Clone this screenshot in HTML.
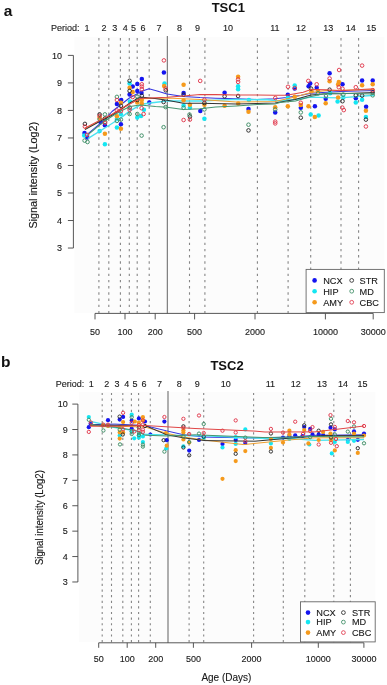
<!DOCTYPE html>
<html><head><meta charset="utf-8"><title>TSC1 / TSC2</title>
<style>
html,body{margin:0;padding:0;background:#fff;}
body{width:387px;height:685px;overflow:hidden;}
svg{display:block;filter:blur(0.35px);}
.t{font-family:'Liberation Sans',Arial,sans-serif;font-size:9px;fill:#1a1a1a;stroke:#1a1a1a;stroke-width:0.12px;}
.lg{font-size:9.2px;}
.ax{font-size:10px;}
.yt{font-family:'Liberation Sans',Arial,sans-serif;font-size:10px;fill:#1a1a1a;stroke:#1a1a1a;stroke-width:0.15px;}
.tt{font-family:'Liberation Sans',Arial,sans-serif;font-size:13px;font-weight:bold;fill:#111;}
.pl{font-family:'Liberation Sans',Arial,sans-serif;font-size:15.5px;font-weight:bold;fill:#111;}
</style></head><body>
<svg width="387" height="685" viewBox="0 0 387 685">
<rect width="387" height="685" fill="#fff"/>
<rect x="74.5" y="37" width="309.9" height="276" fill="#fcfcfc"/>
<line x1="98.9" y1="38.1" x2="98.9" y2="313" stroke="#858585" stroke-width="1.1" stroke-dasharray="2.4 3.8"/>
<line x1="108.8" y1="38.1" x2="108.8" y2="313" stroke="#858585" stroke-width="1.1" stroke-dasharray="2.4 3.8"/>
<line x1="120.4" y1="38.1" x2="120.4" y2="313" stroke="#858585" stroke-width="1.1" stroke-dasharray="2.4 3.8"/>
<line x1="129.3" y1="38.1" x2="129.3" y2="313" stroke="#858585" stroke-width="1.1" stroke-dasharray="2.4 3.8"/>
<line x1="137.2" y1="38.1" x2="137.2" y2="313" stroke="#858585" stroke-width="1.1" stroke-dasharray="2.4 3.8"/>
<line x1="149.2" y1="38.1" x2="149.2" y2="313" stroke="#858585" stroke-width="1.1" stroke-dasharray="2.4 3.8"/>
<line x1="189.5" y1="38.1" x2="189.5" y2="313" stroke="#858585" stroke-width="1.1" stroke-dasharray="2.4 3.8"/>
<line x1="204.9" y1="38.1" x2="204.9" y2="313" stroke="#858585" stroke-width="1.1" stroke-dasharray="2.4 3.8"/>
<line x1="257.4" y1="38.1" x2="257.4" y2="313" stroke="#858585" stroke-width="1.1" stroke-dasharray="2.4 3.8"/>
<line x1="288.1" y1="38.1" x2="288.1" y2="313" stroke="#858585" stroke-width="1.1" stroke-dasharray="2.4 3.8"/>
<line x1="310.7" y1="38.1" x2="310.7" y2="313" stroke="#858585" stroke-width="1.1" stroke-dasharray="2.4 3.8"/>
<line x1="341" y1="38.1" x2="341" y2="313" stroke="#858585" stroke-width="1.1" stroke-dasharray="2.4 3.8"/>
<line x1="358.6" y1="38.1" x2="358.6" y2="313" stroke="#858585" stroke-width="1.1" stroke-dasharray="2.4 3.8"/>
<line x1="167.3" y1="36" x2="167.3" y2="313.4" stroke="#5a5a5a" stroke-width="0.95"/>
<path d="M73.4 55.4V248.04" stroke="#444" stroke-width="0.9" fill="none"/>
<path d="M67.9 55.4H73.4" stroke="#444" stroke-width="0.9"/>
<text x="62.1" y="58.6" text-anchor="end" class="t">10</text>
<path d="M67.9 82.92H73.4" stroke="#444" stroke-width="0.9"/>
<text x="62.1" y="86.12" text-anchor="end" class="t">9</text>
<path d="M67.9 110.44H73.4" stroke="#444" stroke-width="0.9"/>
<text x="62.1" y="113.64" text-anchor="end" class="t">8</text>
<path d="M67.9 137.96H73.4" stroke="#444" stroke-width="0.9"/>
<text x="62.1" y="141.16" text-anchor="end" class="t">7</text>
<path d="M67.9 165.48H73.4" stroke="#444" stroke-width="0.9"/>
<text x="62.1" y="168.68" text-anchor="end" class="t">6</text>
<path d="M67.9 193H73.4" stroke="#444" stroke-width="0.9"/>
<text x="62.1" y="196.2" text-anchor="end" class="t">5</text>
<path d="M67.9 220.52H73.4" stroke="#444" stroke-width="0.9"/>
<text x="62.1" y="223.72" text-anchor="end" class="t">4</text>
<path d="M67.9 248.04H73.4" stroke="#444" stroke-width="0.9"/>
<text x="62.1" y="251.24" text-anchor="end" class="t">3</text>
<path d="M95 313.4H373.2" stroke="#444" stroke-width="0.9" fill="none"/>
<path d="M95 313.4V319.4" stroke="#444" stroke-width="0.9"/>
<text x="95" y="334.6" text-anchor="middle" class="t">50</text>
<path d="M125 313.4V319.4" stroke="#444" stroke-width="0.9"/>
<text x="125" y="334.6" text-anchor="middle" class="t">100</text>
<path d="M155.2 313.4V319.4" stroke="#444" stroke-width="0.9"/>
<text x="155.2" y="334.6" text-anchor="middle" class="t">200</text>
<path d="M194.6 313.4V319.4" stroke="#444" stroke-width="0.9"/>
<text x="194.6" y="334.6" text-anchor="middle" class="t">500</text>
<path d="M255 313.4V319.4" stroke="#444" stroke-width="0.9"/>
<text x="255" y="334.6" text-anchor="middle" class="t">2000</text>
<path d="M325.4 313.4V319.4" stroke="#444" stroke-width="0.9"/>
<text x="325.4" y="334.6" text-anchor="middle" class="t">10000</text>
<path d="M373.2 313.4V319.4" stroke="#444" stroke-width="0.9"/>
<text x="373.2" y="334.6" text-anchor="middle" class="t">30000</text>
<text x="50.9" y="30.5" class="t">Period:</text>
<text x="87" y="30.5" text-anchor="middle" class="t">1</text>
<text x="104.1" y="30.5" text-anchor="middle" class="t">2</text>
<text x="114.8" y="30.5" text-anchor="middle" class="t">3</text>
<text x="125.2" y="30.5" text-anchor="middle" class="t">4</text>
<text x="133.4" y="30.5" text-anchor="middle" class="t">5</text>
<text x="143" y="30.5" text-anchor="middle" class="t">6</text>
<text x="159.1" y="30.5" text-anchor="middle" class="t">7</text>
<text x="179.6" y="30.5" text-anchor="middle" class="t">8</text>
<text x="197.6" y="30.5" text-anchor="middle" class="t">9</text>
<text x="228" y="30.5" text-anchor="middle" class="t">10</text>
<text x="274.9" y="30.5" text-anchor="middle" class="t">11</text>
<text x="301" y="30.5" text-anchor="middle" class="t">12</text>
<text x="328.3" y="30.5" text-anchor="middle" class="t">13</text>
<text x="350.8" y="30.5" text-anchor="middle" class="t">14</text>
<text x="371.3" y="30.5" text-anchor="middle" class="t">15</text>
<text x="228.3" y="12.1" text-anchor="middle" class="tt">TSC1</text>
<text x="3.8" y="15.5" class="pl">a</text>
<text transform="translate(37 175.2) rotate(-90)" text-anchor="middle" class="yt" textLength="106.8" lengthAdjust="spacingAndGlyphs">Signal intensity (Log2)</text>
<circle cx="84.5" cy="132.9" r="2.25" fill="#1414f0"/>
<circle cx="87.3" cy="137.6" r="2.25" fill="#1414f0"/>
<circle cx="100.6" cy="122.2" r="2.25" fill="#1414f0"/>
<circle cx="104.9" cy="125.3" r="2.25" fill="#1414f0"/>
<circle cx="116.9" cy="104.1" r="2.25" fill="#1414f0"/>
<circle cx="121.2" cy="99.9" r="2.25" fill="#1414f0"/>
<circle cx="120.9" cy="124.2" r="2.25" fill="#1414f0"/>
<circle cx="129.6" cy="94.4" r="2.25" fill="#1414f0"/>
<circle cx="132.7" cy="86.4" r="2.25" fill="#1414f0"/>
<circle cx="137.3" cy="83.9" r="2.25" fill="#1414f0"/>
<circle cx="137.3" cy="90.9" r="2.25" fill="#1414f0"/>
<circle cx="141.8" cy="79" r="2.25" fill="#1414f0"/>
<circle cx="141.5" cy="93" r="2.25" fill="#1414f0"/>
<circle cx="149.3" cy="102.4" r="2.25" fill="#1414f0"/>
<circle cx="163.9" cy="72.6" r="2.25" fill="#1414f0"/>
<circle cx="183.6" cy="92.9" r="2.25" fill="#1414f0"/>
<circle cx="200.3" cy="111" r="2.25" fill="#1414f0"/>
<circle cx="224.6" cy="92.8" r="2.25" fill="#1414f0"/>
<circle cx="248.5" cy="109.1" r="2.25" fill="#1414f0"/>
<circle cx="275.2" cy="112.5" r="2.25" fill="#1414f0"/>
<circle cx="287.8" cy="94.8" r="2.25" fill="#1414f0"/>
<circle cx="294.7" cy="88.4" r="2.25" fill="#1414f0"/>
<circle cx="300.8" cy="107.8" r="2.25" fill="#1414f0"/>
<circle cx="310.2" cy="83.6" r="2.25" fill="#1414f0"/>
<circle cx="308.6" cy="86.3" r="2.25" fill="#1414f0"/>
<circle cx="316.7" cy="87.8" r="2.25" fill="#1414f0"/>
<circle cx="314.9" cy="106.2" r="2.25" fill="#1414f0"/>
<circle cx="325.7" cy="98.7" r="2.25" fill="#1414f0"/>
<circle cx="329.6" cy="73.2" r="2.25" fill="#1414f0"/>
<circle cx="342.5" cy="84.3" r="2.25" fill="#1414f0"/>
<circle cx="355.8" cy="98.3" r="2.25" fill="#1414f0"/>
<circle cx="362.1" cy="80.6" r="2.25" fill="#1414f0"/>
<circle cx="366.1" cy="106.8" r="2.25" fill="#1414f0"/>
<circle cx="372.7" cy="80.6" r="2.25" fill="#1414f0"/>
<path d="M87.5 134.2 L104.5 119.8 L112 111.5 L121.1 104.5 L129.4 98 L141.8 91.2 L149 88.7 L158 91.2 L167 94 L183.4 96.4 L200 97.6 L215.7 98.2 L236.3 98.8 L257 99.4 L275 98.8 L286.7 97.4 L301.2 95.3 L311 93.3 L326.5 92.3 L340 91.5 L374.2 90.5" stroke="#3535e0" stroke-width="1.05" fill="none" stroke-linejoin="round"/>
<circle cx="84.2" cy="135.6" r="2.25" fill="#14e6f2"/>
<circle cx="99.6" cy="131.1" r="2.25" fill="#14e6f2"/>
<circle cx="104.9" cy="144.2" r="2.25" fill="#14e6f2"/>
<circle cx="116.9" cy="118.9" r="2.25" fill="#14e6f2"/>
<circle cx="116.9" cy="127.5" r="2.25" fill="#14e6f2"/>
<circle cx="120.9" cy="114.3" r="2.25" fill="#14e6f2"/>
<circle cx="129.6" cy="83.6" r="2.25" fill="#14e6f2"/>
<circle cx="129.9" cy="101.4" r="2.25" fill="#14e6f2"/>
<circle cx="137.3" cy="117.5" r="2.25" fill="#14e6f2"/>
<circle cx="143.9" cy="109.8" r="2.25" fill="#14e6f2"/>
<circle cx="141" cy="116.1" r="2.25" fill="#14e6f2"/>
<circle cx="164.5" cy="83.5" r="2.25" fill="#14e6f2"/>
<circle cx="183.6" cy="105.6" r="2.25" fill="#14e6f2"/>
<circle cx="189.9" cy="107.4" r="2.25" fill="#14e6f2"/>
<circle cx="204.4" cy="118.7" r="2.25" fill="#14e6f2"/>
<circle cx="238.1" cy="86.2" r="2.25" fill="#14e6f2"/>
<circle cx="238.1" cy="89.2" r="2.25" fill="#14e6f2"/>
<circle cx="248.9" cy="100" r="2.25" fill="#14e6f2"/>
<circle cx="287.8" cy="97.9" r="2.25" fill="#14e6f2"/>
<circle cx="294.7" cy="85.5" r="2.25" fill="#14e6f2"/>
<circle cx="310.7" cy="114.5" r="2.25" fill="#14e6f2"/>
<circle cx="318.6" cy="115.5" r="2.25" fill="#14e6f2"/>
<circle cx="330.2" cy="93.3" r="2.25" fill="#14e6f2"/>
<circle cx="343.3" cy="97.6" r="2.25" fill="#14e6f2"/>
<circle cx="337.6" cy="101.6" r="2.25" fill="#14e6f2"/>
<circle cx="355.8" cy="102.4" r="2.25" fill="#14e6f2"/>
<circle cx="362.1" cy="99.8" r="2.25" fill="#14e6f2"/>
<circle cx="365.9" cy="117.1" r="2.25" fill="#14e6f2"/>
<path d="M87.8 138.7 L112 123.5 L121 117.6 L130 110.9 L141.8 104.2 L150 103 L167 101 L183.4 101 L200 101 L215.7 100.2 L236.3 99.4 L248.7 99.8 L265 99.5 L280 101 L295 99.5 L311 97.1 L326 97.6 L340 97.9 L374.2 95.3" stroke="#48e2f0" stroke-width="1.37" fill="none" stroke-linejoin="round"/>
<circle cx="99.6" cy="117.8" r="2.25" fill="#f59a1c"/>
<circle cx="104.9" cy="133.7" r="2.25" fill="#f59a1c"/>
<circle cx="116.9" cy="116.3" r="2.25" fill="#f59a1c"/>
<circle cx="120.9" cy="102.8" r="2.25" fill="#f59a1c"/>
<circle cx="120.9" cy="128.8" r="2.25" fill="#f59a1c"/>
<circle cx="129.6" cy="87.8" r="2.25" fill="#f59a1c"/>
<circle cx="132.7" cy="92" r="2.25" fill="#f59a1c"/>
<circle cx="137.3" cy="102.5" r="2.25" fill="#f59a1c"/>
<circle cx="141.8" cy="100" r="2.25" fill="#f59a1c"/>
<circle cx="141.8" cy="103.5" r="2.25" fill="#f59a1c"/>
<circle cx="164.1" cy="86" r="2.25" fill="#f59a1c"/>
<circle cx="183.6" cy="84.8" r="2.25" fill="#f59a1c"/>
<circle cx="183.6" cy="100.2" r="2.25" fill="#f59a1c"/>
<circle cx="189.9" cy="104.7" r="2.25" fill="#f59a1c"/>
<circle cx="204.4" cy="104.7" r="2.25" fill="#f59a1c"/>
<circle cx="224.6" cy="105.7" r="2.25" fill="#f59a1c"/>
<circle cx="238.1" cy="76.7" r="2.25" fill="#f59a1c"/>
<circle cx="238.2" cy="103.4" r="2.25" fill="#f59a1c"/>
<circle cx="248.5" cy="111.8" r="2.25" fill="#f59a1c"/>
<circle cx="275.2" cy="107.3" r="2.25" fill="#f59a1c"/>
<circle cx="287.8" cy="106.2" r="2.25" fill="#f59a1c"/>
<circle cx="294.7" cy="96.8" r="2.25" fill="#f59a1c"/>
<circle cx="300.8" cy="104.9" r="2.25" fill="#f59a1c"/>
<circle cx="311.5" cy="91.2" r="2.25" fill="#f59a1c"/>
<circle cx="308.5" cy="106.2" r="2.25" fill="#f59a1c"/>
<circle cx="318" cy="90.9" r="2.25" fill="#f59a1c"/>
<circle cx="314.8" cy="117.1" r="2.25" fill="#f59a1c"/>
<circle cx="325.7" cy="103.2" r="2.25" fill="#f59a1c"/>
<circle cx="329.6" cy="81.3" r="2.25" fill="#f59a1c"/>
<circle cx="338.8" cy="82.1" r="2.25" fill="#f59a1c"/>
<circle cx="338.1" cy="84.4" r="2.25" fill="#f59a1c"/>
<circle cx="338.1" cy="97.6" r="2.25" fill="#f59a1c"/>
<circle cx="362.1" cy="85.3" r="2.25" fill="#f59a1c"/>
<circle cx="365.9" cy="110.8" r="2.25" fill="#f59a1c"/>
<circle cx="372.7" cy="84.3" r="2.25" fill="#f59a1c"/>
<path d="M84.8 129 L100 120.8 L112 114.8 L121 109.2 L130 103.6 L140 98.7 L167 97.9 L183.4 98.7 L200 99.5 L236.3 101.9 L257 101.7 L275 101.5 L295 97 L311 92.5 L326 90.5 L340 90.2 L374.2 89.5" stroke="#f0a030" stroke-width="1.05" fill="none" stroke-linejoin="round"/>
<circle cx="84.9" cy="123.9" r="1.8" fill="none" stroke="#2a2a2a" stroke-width="0.95"/>
<circle cx="99.6" cy="114.4" r="1.8" fill="none" stroke="#2a2a2a" stroke-width="0.95"/>
<circle cx="104.9" cy="118.5" r="1.8" fill="none" stroke="#2a2a2a" stroke-width="0.95"/>
<circle cx="120.9" cy="105.8" r="1.8" fill="none" stroke="#2a2a2a" stroke-width="0.95"/>
<circle cx="129.6" cy="80.8" r="1.8" fill="none" stroke="#2a2a2a" stroke-width="0.95"/>
<circle cx="129.6" cy="90.9" r="1.8" fill="none" stroke="#2a2a2a" stroke-width="0.95"/>
<circle cx="129.6" cy="107.6" r="1.8" fill="none" stroke="#2a2a2a" stroke-width="0.95"/>
<circle cx="137.3" cy="100" r="1.8" fill="none" stroke="#2a2a2a" stroke-width="0.95"/>
<circle cx="141.8" cy="95.8" r="1.8" fill="none" stroke="#2a2a2a" stroke-width="0.95"/>
<circle cx="165.8" cy="90.3" r="1.8" fill="none" stroke="#2a2a2a" stroke-width="0.95"/>
<circle cx="163.6" cy="102" r="1.8" fill="none" stroke="#2a2a2a" stroke-width="0.95"/>
<circle cx="183.6" cy="94.7" r="1.8" fill="none" stroke="#2a2a2a" stroke-width="0.95"/>
<circle cx="189.9" cy="116.5" r="1.8" fill="none" stroke="#2a2a2a" stroke-width="0.95"/>
<circle cx="204.4" cy="103" r="1.8" fill="none" stroke="#2a2a2a" stroke-width="0.95"/>
<circle cx="224.6" cy="96.3" r="1.8" fill="none" stroke="#2a2a2a" stroke-width="0.95"/>
<circle cx="238.1" cy="96" r="1.8" fill="none" stroke="#2a2a2a" stroke-width="0.95"/>
<circle cx="248.5" cy="130.4" r="1.8" fill="none" stroke="#2a2a2a" stroke-width="0.95"/>
<circle cx="300.8" cy="117.7" r="1.8" fill="none" stroke="#2a2a2a" stroke-width="0.95"/>
<circle cx="311" cy="88.6" r="1.8" fill="none" stroke="#2a2a2a" stroke-width="0.95"/>
<circle cx="329.6" cy="89.7" r="1.8" fill="none" stroke="#2a2a2a" stroke-width="0.95"/>
<circle cx="342.5" cy="101.2" r="1.8" fill="none" stroke="#2a2a2a" stroke-width="0.95"/>
<circle cx="355.8" cy="95.3" r="1.8" fill="none" stroke="#2a2a2a" stroke-width="0.95"/>
<circle cx="362.1" cy="95.6" r="1.8" fill="none" stroke="#2a2a2a" stroke-width="0.95"/>
<circle cx="365.9" cy="119.6" r="1.8" fill="none" stroke="#2a2a2a" stroke-width="0.95"/>
<circle cx="372.7" cy="92.5" r="1.8" fill="none" stroke="#2a2a2a" stroke-width="0.95"/>
<path d="M85 129.6 L100 121.3 L112 115.2 L121 109.5 L130 102.8 L140 97.1 L155 98.5 L167 100.2 L183.4 103.3 L200 103.3 L236.3 103.9 L257 103.5 L275 102.9 L295 99.5 L311 95 L326 93.8 L340 93.8 L374.2 92.4" stroke="#333333" stroke-width="1.05" fill="none" stroke-linejoin="round"/>
<circle cx="84.6" cy="140.6" r="1.8" fill="none" stroke="#3c8c64" stroke-width="0.95"/>
<circle cx="87.5" cy="142" r="1.8" fill="none" stroke="#3c8c64" stroke-width="0.95"/>
<circle cx="99.6" cy="119.2" r="1.8" fill="none" stroke="#3c8c64" stroke-width="0.95"/>
<circle cx="104.9" cy="114.4" r="1.8" fill="none" stroke="#3c8c64" stroke-width="0.95"/>
<circle cx="105.1" cy="121.7" r="1.8" fill="none" stroke="#3c8c64" stroke-width="0.95"/>
<circle cx="116.9" cy="96.9" r="1.8" fill="none" stroke="#3c8c64" stroke-width="0.95"/>
<circle cx="116.9" cy="120.9" r="1.8" fill="none" stroke="#3c8c64" stroke-width="0.95"/>
<circle cx="120.9" cy="119.6" r="1.8" fill="none" stroke="#3c8c64" stroke-width="0.95"/>
<circle cx="129.6" cy="114" r="1.8" fill="none" stroke="#3c8c64" stroke-width="0.95"/>
<circle cx="137.3" cy="96.5" r="1.8" fill="none" stroke="#3c8c64" stroke-width="0.95"/>
<circle cx="137.3" cy="114" r="1.8" fill="none" stroke="#3c8c64" stroke-width="0.95"/>
<circle cx="141.6" cy="135.6" r="1.8" fill="none" stroke="#3c8c64" stroke-width="0.95"/>
<circle cx="165.6" cy="107.1" r="1.8" fill="none" stroke="#3c8c64" stroke-width="0.95"/>
<circle cx="163.6" cy="127.2" r="1.8" fill="none" stroke="#3c8c64" stroke-width="0.95"/>
<circle cx="183.6" cy="107.8" r="1.8" fill="none" stroke="#3c8c64" stroke-width="0.95"/>
<circle cx="189.5" cy="114.6" r="1.8" fill="none" stroke="#3c8c64" stroke-width="0.95"/>
<circle cx="204.4" cy="109.4" r="1.8" fill="none" stroke="#3c8c64" stroke-width="0.95"/>
<circle cx="248.5" cy="124.7" r="1.8" fill="none" stroke="#3c8c64" stroke-width="0.95"/>
<circle cx="275.2" cy="109.5" r="1.8" fill="none" stroke="#3c8c64" stroke-width="0.95"/>
<circle cx="300.8" cy="112.4" r="1.8" fill="none" stroke="#3c8c64" stroke-width="0.95"/>
<circle cx="318" cy="93.3" r="1.8" fill="none" stroke="#3c8c64" stroke-width="0.95"/>
<circle cx="326" cy="96" r="1.8" fill="none" stroke="#3c8c64" stroke-width="0.95"/>
<circle cx="343.3" cy="94.6" r="1.8" fill="none" stroke="#3c8c64" stroke-width="0.95"/>
<circle cx="372.7" cy="95.3" r="1.8" fill="none" stroke="#3c8c64" stroke-width="0.95"/>
<path d="M87.5 135 L104.5 121.2 L112 116.2 L121 111 L130 106.5 L140 104.9 L155.5 106.4 L167 107.2 L183.4 109.5 L200 108.8 L215.7 107 L236.3 106 L257 104.6 L275 104 L280 102.6 L295.5 101 L311 96.4 L326.5 93.3 L340 93.3 L374.2 94" stroke="#459570" stroke-width="1.05" fill="none" stroke-linejoin="round"/>
<circle cx="84.9" cy="126.6" r="1.8" fill="none" stroke="#e0384c" stroke-width="0.95"/>
<circle cx="87.1" cy="134.9" r="1.8" fill="none" stroke="#e0384c" stroke-width="0.95"/>
<circle cx="99.6" cy="116" r="1.8" fill="none" stroke="#e0384c" stroke-width="0.95"/>
<circle cx="105.1" cy="123" r="1.8" fill="none" stroke="#e0384c" stroke-width="0.95"/>
<circle cx="116.9" cy="100" r="1.8" fill="none" stroke="#e0384c" stroke-width="0.95"/>
<circle cx="116.9" cy="110.5" r="1.8" fill="none" stroke="#e0384c" stroke-width="0.95"/>
<circle cx="120.9" cy="111.1" r="1.8" fill="none" stroke="#e0384c" stroke-width="0.95"/>
<circle cx="129.6" cy="109.8" r="1.8" fill="none" stroke="#e0384c" stroke-width="0.95"/>
<circle cx="132.7" cy="97" r="1.8" fill="none" stroke="#e0384c" stroke-width="0.95"/>
<circle cx="141.8" cy="84.3" r="1.8" fill="none" stroke="#e0384c" stroke-width="0.95"/>
<circle cx="141.8" cy="86.6" r="1.8" fill="none" stroke="#e0384c" stroke-width="0.95"/>
<circle cx="141.8" cy="89.2" r="1.8" fill="none" stroke="#e0384c" stroke-width="0.95"/>
<circle cx="141.6" cy="108.2" r="1.8" fill="none" stroke="#e0384c" stroke-width="0.95"/>
<circle cx="143.6" cy="114" r="1.8" fill="none" stroke="#e0384c" stroke-width="0.95"/>
<circle cx="163.9" cy="60.4" r="1.8" fill="none" stroke="#e0384c" stroke-width="0.95"/>
<circle cx="165.6" cy="88.5" r="1.8" fill="none" stroke="#e0384c" stroke-width="0.95"/>
<circle cx="183.6" cy="120" r="1.8" fill="none" stroke="#e0384c" stroke-width="0.95"/>
<circle cx="189.9" cy="119.6" r="1.8" fill="none" stroke="#e0384c" stroke-width="0.95"/>
<circle cx="200.2" cy="80.9" r="1.8" fill="none" stroke="#e0384c" stroke-width="0.95"/>
<circle cx="204.4" cy="99.7" r="1.8" fill="none" stroke="#e0384c" stroke-width="0.95"/>
<circle cx="238.1" cy="79.4" r="1.8" fill="none" stroke="#e0384c" stroke-width="0.95"/>
<circle cx="238.1" cy="81.9" r="1.8" fill="none" stroke="#e0384c" stroke-width="0.95"/>
<circle cx="275.3" cy="98" r="1.8" fill="none" stroke="#e0384c" stroke-width="0.95"/>
<circle cx="275.2" cy="121.6" r="1.8" fill="none" stroke="#e0384c" stroke-width="0.95"/>
<circle cx="275.2" cy="123.4" r="1.8" fill="none" stroke="#e0384c" stroke-width="0.95"/>
<circle cx="288" cy="86.8" r="1.8" fill="none" stroke="#e0384c" stroke-width="0.95"/>
<circle cx="294.8" cy="88" r="1.8" fill="none" stroke="#e0384c" stroke-width="0.95"/>
<circle cx="300.8" cy="102.8" r="1.8" fill="none" stroke="#e0384c" stroke-width="0.95"/>
<circle cx="308.3" cy="80.9" r="1.8" fill="none" stroke="#e0384c" stroke-width="0.95"/>
<circle cx="316.7" cy="84.3" r="1.8" fill="none" stroke="#e0384c" stroke-width="0.95"/>
<circle cx="329.6" cy="78.5" r="1.8" fill="none" stroke="#e0384c" stroke-width="0.95"/>
<circle cx="339.1" cy="70" r="1.8" fill="none" stroke="#e0384c" stroke-width="0.95"/>
<circle cx="338.8" cy="87.2" r="1.8" fill="none" stroke="#e0384c" stroke-width="0.95"/>
<circle cx="342.5" cy="88.7" r="1.8" fill="none" stroke="#e0384c" stroke-width="0.95"/>
<circle cx="342.3" cy="107.6" r="1.8" fill="none" stroke="#e0384c" stroke-width="0.95"/>
<circle cx="343.8" cy="110.1" r="1.8" fill="none" stroke="#e0384c" stroke-width="0.95"/>
<circle cx="355.8" cy="87.2" r="1.8" fill="none" stroke="#e0384c" stroke-width="0.95"/>
<circle cx="362.1" cy="65.6" r="1.8" fill="none" stroke="#e0384c" stroke-width="0.95"/>
<circle cx="365.9" cy="126.5" r="1.8" fill="none" stroke="#e0384c" stroke-width="0.95"/>
<circle cx="372.7" cy="90.2" r="1.8" fill="none" stroke="#e0384c" stroke-width="0.95"/>
<path d="M84.8 128.3 L100 120.1 L112 114.3 L121.3 108.5 L140 98.5 L167 97.3 L183.4 96 L200 94.6 L215.7 94.6 L236.3 95 L257 95 L275 95.3 L286.7 95.3 L303.2 92.2 L311 89.6 L326.5 89.8 L340 90.8 L374.2 88.7" stroke="#e04646" stroke-width="1.05" fill="none" stroke-linejoin="round"/>
<rect x="306.1" y="269.4" width="78.2" height="43.2" fill="#fff" stroke="#666" stroke-width="0.9"/>
<circle cx="314.6" cy="280.4" r="2.3" fill="#1414f0"/>
<text x="323.2" y="283.7" class="t lg">NCX</text>
<circle cx="351.7" cy="280.4" r="1.9" fill="none" stroke="#2a2a2a" stroke-width="0.85"/>
<text x="359.6" y="283.7" class="t lg">STR</text>
<circle cx="314.6" cy="291.2" r="2.3" fill="#14e6f2"/>
<text x="323.2" y="294.5" class="t lg">HIP</text>
<circle cx="351.7" cy="291.2" r="1.9" fill="none" stroke="#3c8c64" stroke-width="0.85"/>
<text x="359.6" y="294.5" class="t lg">MD</text>
<circle cx="314.6" cy="302.3" r="2.3" fill="#f59a1c"/>
<text x="323.2" y="305.6" class="t lg">AMY</text>
<circle cx="351.7" cy="302.3" r="1.9" fill="none" stroke="#e0384c" stroke-width="0.85"/>
<text x="359.6" y="305.6" class="t lg">CBC</text>
<rect x="79.2" y="392" width="296.2" height="250.2" fill="#fcfcfc"/>
<line x1="102.2" y1="392.9" x2="102.2" y2="642.2" stroke="#858585" stroke-width="1.1" stroke-dasharray="2.2 3.416"/>
<line x1="111.5" y1="392.9" x2="111.5" y2="642.2" stroke="#858585" stroke-width="1.1" stroke-dasharray="2.2 3.416"/>
<line x1="122.8" y1="392.9" x2="122.8" y2="642.2" stroke="#858585" stroke-width="1.1" stroke-dasharray="2.2 3.416"/>
<line x1="131.4" y1="392.9" x2="131.4" y2="642.2" stroke="#858585" stroke-width="1.1" stroke-dasharray="2.2 3.416"/>
<line x1="138.6" y1="392.9" x2="138.6" y2="642.2" stroke="#858585" stroke-width="1.1" stroke-dasharray="2.2 3.416"/>
<line x1="150.3" y1="392.9" x2="150.3" y2="642.2" stroke="#858585" stroke-width="1.1" stroke-dasharray="2.2 3.416"/>
<line x1="189.1" y1="392.9" x2="189.1" y2="642.2" stroke="#858585" stroke-width="1.1" stroke-dasharray="2.2 3.416"/>
<line x1="203.7" y1="392.9" x2="203.7" y2="642.2" stroke="#858585" stroke-width="1.1" stroke-dasharray="2.2 3.416"/>
<line x1="253.6" y1="392.9" x2="253.6" y2="642.2" stroke="#858585" stroke-width="1.1" stroke-dasharray="2.2 3.416"/>
<line x1="283.3" y1="392.9" x2="283.3" y2="642.2" stroke="#858585" stroke-width="1.1" stroke-dasharray="2.2 3.416"/>
<line x1="304.8" y1="392.9" x2="304.8" y2="642.2" stroke="#858585" stroke-width="1.1" stroke-dasharray="2.2 3.416"/>
<line x1="333.8" y1="392.9" x2="333.8" y2="642.2" stroke="#858585" stroke-width="1.1" stroke-dasharray="2.2 3.416"/>
<line x1="350.4" y1="392.9" x2="350.4" y2="642.2" stroke="#858585" stroke-width="1.1" stroke-dasharray="2.2 3.416"/>
<line x1="168" y1="391" x2="168" y2="642.8" stroke="#5a5a5a" stroke-width="0.95"/>
<path d="M77.9 404.1V581.97" stroke="#444" stroke-width="0.9" fill="none"/>
<path d="M72.3 404.1H77.9" stroke="#444" stroke-width="0.9"/>
<text x="67.8" y="407.3" text-anchor="end" class="t">10</text>
<path d="M72.3 429.51H77.9" stroke="#444" stroke-width="0.9"/>
<text x="67.8" y="432.71" text-anchor="end" class="t">9</text>
<path d="M72.3 454.92H77.9" stroke="#444" stroke-width="0.9"/>
<text x="67.8" y="458.12" text-anchor="end" class="t">8</text>
<path d="M72.3 480.33H77.9" stroke="#444" stroke-width="0.9"/>
<text x="67.8" y="483.53" text-anchor="end" class="t">7</text>
<path d="M72.3 505.74H77.9" stroke="#444" stroke-width="0.9"/>
<text x="67.8" y="508.94" text-anchor="end" class="t">6</text>
<path d="M72.3 531.15H77.9" stroke="#444" stroke-width="0.9"/>
<text x="67.8" y="534.35" text-anchor="end" class="t">5</text>
<path d="M72.3 556.56H77.9" stroke="#444" stroke-width="0.9"/>
<text x="67.8" y="559.76" text-anchor="end" class="t">4</text>
<path d="M72.3 581.97H77.9" stroke="#444" stroke-width="0.9"/>
<text x="67.8" y="585.17" text-anchor="end" class="t">3</text>
<path d="M98.7 642.8H363.9" stroke="#444" stroke-width="0.9" fill="none"/>
<path d="M98.7 642.8V647.8" stroke="#444" stroke-width="0.9"/>
<text x="98.7" y="661.6" text-anchor="middle" class="t">50</text>
<path d="M127.2 642.8V647.8" stroke="#444" stroke-width="0.9"/>
<text x="127.2" y="661.6" text-anchor="middle" class="t">100</text>
<path d="M155.7 642.8V647.8" stroke="#444" stroke-width="0.9"/>
<text x="155.7" y="661.6" text-anchor="middle" class="t">200</text>
<path d="M193.4 642.8V647.8" stroke="#444" stroke-width="0.9"/>
<text x="193.4" y="661.6" text-anchor="middle" class="t">500</text>
<path d="M251.6 642.8V647.8" stroke="#444" stroke-width="0.9"/>
<text x="251.6" y="661.6" text-anchor="middle" class="t">2000</text>
<path d="M318.3 642.8V647.8" stroke="#444" stroke-width="0.9"/>
<text x="318.3" y="661.6" text-anchor="middle" class="t">10000</text>
<path d="M363.9 642.8V647.8" stroke="#444" stroke-width="0.9"/>
<text x="363.9" y="661.6" text-anchor="middle" class="t">30000</text>
<text x="55.8" y="387" class="t">Period:</text>
<text x="91.3" y="387" text-anchor="middle" class="t">1</text>
<text x="106.8" y="387" text-anchor="middle" class="t">2</text>
<text x="117" y="387" text-anchor="middle" class="t">3</text>
<text x="126.8" y="387" text-anchor="middle" class="t">4</text>
<text x="135" y="387" text-anchor="middle" class="t">5</text>
<text x="144" y="387" text-anchor="middle" class="t">6</text>
<text x="159.5" y="387" text-anchor="middle" class="t">7</text>
<text x="179.3" y="387" text-anchor="middle" class="t">8</text>
<text x="197.3" y="387" text-anchor="middle" class="t">9</text>
<text x="225.8" y="387" text-anchor="middle" class="t">10</text>
<text x="270.3" y="387" text-anchor="middle" class="t">11</text>
<text x="295.8" y="387" text-anchor="middle" class="t">12</text>
<text x="322" y="387" text-anchor="middle" class="t">13</text>
<text x="343" y="387" text-anchor="middle" class="t">14</text>
<text x="362.4" y="387" text-anchor="middle" class="t">15</text>
<text x="227" y="369.8" text-anchor="middle" class="tt">TSC2</text>
<text x="1" y="366.6" class="pl">b</text>
<text transform="translate(43.2 517.6) rotate(-90)" text-anchor="middle" class="yt" textLength="95" lengthAdjust="spacingAndGlyphs">Signal intensity (Log2)</text>
<circle cx="90.6" cy="423.8" r="2.1" fill="#1414f0"/>
<circle cx="88.8" cy="427.2" r="2.1" fill="#1414f0"/>
<circle cx="108" cy="420.2" r="2.1" fill="#1414f0"/>
<circle cx="119.7" cy="419.6" r="2.1" fill="#1414f0"/>
<circle cx="123.1" cy="416.9" r="2.1" fill="#1414f0"/>
<circle cx="131.7" cy="420.6" r="2.1" fill="#1414f0"/>
<circle cx="131.7" cy="428.7" r="2.1" fill="#1414f0"/>
<circle cx="138.9" cy="418.4" r="2.1" fill="#1414f0"/>
<circle cx="145" cy="421.5" r="2.1" fill="#1414f0"/>
<circle cx="150.4" cy="434.5" r="2.1" fill="#1414f0"/>
<circle cx="164.4" cy="421.6" r="2.1" fill="#1414f0"/>
<circle cx="166.7" cy="440.2" r="2.1" fill="#1414f0"/>
<circle cx="189.2" cy="450.6" r="2.1" fill="#1414f0"/>
<circle cx="199" cy="439.9" r="2.1" fill="#1414f0"/>
<circle cx="222.5" cy="443.9" r="2.1" fill="#1414f0"/>
<circle cx="235.7" cy="439.9" r="2.1" fill="#1414f0"/>
<circle cx="245.3" cy="443" r="2.1" fill="#1414f0"/>
<circle cx="283" cy="437.5" r="2.1" fill="#1414f0"/>
<circle cx="289.4" cy="436.2" r="2.1" fill="#1414f0"/>
<circle cx="295.2" cy="435.3" r="2.1" fill="#1414f0"/>
<circle cx="304.2" cy="427.1" r="2.1" fill="#1414f0"/>
<circle cx="302.5" cy="436" r="2.1" fill="#1414f0"/>
<circle cx="310.2" cy="428.9" r="2.1" fill="#1414f0"/>
<circle cx="312.5" cy="434.4" r="2.1" fill="#1414f0"/>
<circle cx="318.7" cy="434.4" r="2.1" fill="#1414f0"/>
<circle cx="323.1" cy="435" r="2.1" fill="#1414f0"/>
<circle cx="330.5" cy="427.7" r="2.1" fill="#1414f0"/>
<circle cx="334.8" cy="429.4" r="2.1" fill="#1414f0"/>
<circle cx="347.8" cy="439.8" r="2.1" fill="#1414f0"/>
<circle cx="354" cy="431.4" r="2.1" fill="#1414f0"/>
<circle cx="357.8" cy="439.8" r="2.1" fill="#1414f0"/>
<circle cx="364" cy="433.6" r="2.1" fill="#1414f0"/>
<path d="M89.9 424.6 L115 424.1 L145 425.6 L166.7 430.9 L183.8 434.8 L205 437.1 L255 438 L291 437.1 L315 435.3 L364 434.8" stroke="#3535e0" stroke-width="1" fill="none" stroke-linejoin="round"/>
<circle cx="88.8" cy="417" r="2.1" fill="#14e6f2"/>
<circle cx="119.7" cy="435.5" r="2.1" fill="#14e6f2"/>
<circle cx="131.7" cy="414.7" r="2.1" fill="#14e6f2"/>
<circle cx="131.7" cy="431.5" r="2.1" fill="#14e6f2"/>
<circle cx="134.2" cy="438.3" r="2.1" fill="#14e6f2"/>
<circle cx="138.9" cy="435.2" r="2.1" fill="#14e6f2"/>
<circle cx="138.9" cy="437.7" r="2.1" fill="#14e6f2"/>
<circle cx="142.9" cy="436.4" r="2.1" fill="#14e6f2"/>
<circle cx="142.9" cy="442" r="2.1" fill="#14e6f2"/>
<circle cx="166.2" cy="448.5" r="2.1" fill="#14e6f2"/>
<circle cx="183.4" cy="446.4" r="2.1" fill="#14e6f2"/>
<circle cx="203.7" cy="438.5" r="2.1" fill="#14e6f2"/>
<circle cx="222.5" cy="447.5" r="2.1" fill="#14e6f2"/>
<circle cx="235.7" cy="437.2" r="2.1" fill="#14e6f2"/>
<circle cx="235.7" cy="443.9" r="2.1" fill="#14e6f2"/>
<circle cx="245.3" cy="429.4" r="2.1" fill="#14e6f2"/>
<circle cx="270.9" cy="443.4" r="2.1" fill="#14e6f2"/>
<circle cx="289.4" cy="438.9" r="2.1" fill="#14e6f2"/>
<circle cx="309.3" cy="444.5" r="2.1" fill="#14e6f2"/>
<circle cx="334.8" cy="442" r="2.1" fill="#14e6f2"/>
<circle cx="331.8" cy="453.4" r="2.1" fill="#14e6f2"/>
<circle cx="347.8" cy="442" r="2.1" fill="#14e6f2"/>
<circle cx="354" cy="440.8" r="2.1" fill="#14e6f2"/>
<path d="M90.4 421.4 L102.8 424.2 L115 427.7 L135.7 430.8 L146 434.5 L166.7 434.8 L183.8 435.6 L205 435.8 L265 438.5 L291 438.5 L315 440.3 L364 439.5" stroke="#48e2f0" stroke-width="1.3" fill="none" stroke-linejoin="round"/>
<circle cx="103.2" cy="425.3" r="2.1" fill="#f59a1c"/>
<circle cx="108" cy="426" r="2.1" fill="#f59a1c"/>
<circle cx="119.7" cy="427.2" r="2.1" fill="#f59a1c"/>
<circle cx="119.7" cy="432.4" r="2.1" fill="#f59a1c"/>
<circle cx="119.7" cy="438.6" r="2.1" fill="#f59a1c"/>
<circle cx="123.1" cy="422.1" r="2.1" fill="#f59a1c"/>
<circle cx="123.1" cy="432.4" r="2.1" fill="#f59a1c"/>
<circle cx="134.8" cy="421.5" r="2.1" fill="#f59a1c"/>
<circle cx="138.9" cy="422.5" r="2.1" fill="#f59a1c"/>
<circle cx="142.9" cy="417.2" r="2.1" fill="#f59a1c"/>
<circle cx="142.9" cy="420.3" r="2.1" fill="#f59a1c"/>
<circle cx="165.9" cy="433" r="2.1" fill="#f59a1c"/>
<circle cx="166.7" cy="445.7" r="2.1" fill="#f59a1c"/>
<circle cx="183.4" cy="430.2" r="2.1" fill="#f59a1c"/>
<circle cx="183.4" cy="432.5" r="2.1" fill="#f59a1c"/>
<circle cx="183.4" cy="439.5" r="2.1" fill="#f59a1c"/>
<circle cx="189.2" cy="442.6" r="2.1" fill="#f59a1c"/>
<circle cx="222.5" cy="478.8" r="2.1" fill="#f59a1c"/>
<circle cx="235.7" cy="450.2" r="2.1" fill="#f59a1c"/>
<circle cx="235.7" cy="461.1" r="2.1" fill="#f59a1c"/>
<circle cx="245.3" cy="451.1" r="2.1" fill="#f59a1c"/>
<circle cx="270.9" cy="438.9" r="2.1" fill="#f59a1c"/>
<circle cx="270.9" cy="447.9" r="2.1" fill="#f59a1c"/>
<circle cx="283" cy="442.5" r="2.1" fill="#f59a1c"/>
<circle cx="289.4" cy="430.7" r="2.1" fill="#f59a1c"/>
<circle cx="289.4" cy="434.4" r="2.1" fill="#f59a1c"/>
<circle cx="304.2" cy="430" r="2.1" fill="#f59a1c"/>
<circle cx="308.4" cy="443.4" r="2.1" fill="#f59a1c"/>
<circle cx="318.7" cy="440" r="2.1" fill="#f59a1c"/>
<circle cx="323.1" cy="431.9" r="2.1" fill="#f59a1c"/>
<circle cx="330.5" cy="433.6" r="2.1" fill="#f59a1c"/>
<circle cx="331" cy="440.3" r="2.1" fill="#f59a1c"/>
<circle cx="334.8" cy="450.4" r="2.1" fill="#f59a1c"/>
<circle cx="354" cy="433.6" r="2.1" fill="#f59a1c"/>
<circle cx="357.8" cy="452.9" r="2.1" fill="#f59a1c"/>
<circle cx="364" cy="435.5" r="2.1" fill="#f59a1c"/>
<path d="M89.9 425.6 L115 426.2 L145 427 L166.7 433.3 L183.8 437.1 L205 440.2 L243.8 444.6 L255 443.4 L291 439.8 L315 437.8 L364 437.8" stroke="#f0a030" stroke-width="1" fill="none" stroke-linejoin="round"/>
<circle cx="119.6" cy="416.6" r="1.6500000000000001" fill="none" stroke="#2a2a2a" stroke-width="0.95"/>
<circle cx="122.8" cy="434.5" r="1.6500000000000001" fill="none" stroke="#2a2a2a" stroke-width="0.95"/>
<circle cx="138.9" cy="427.4" r="1.6500000000000001" fill="none" stroke="#2a2a2a" stroke-width="0.95"/>
<circle cx="145" cy="426" r="1.6500000000000001" fill="none" stroke="#2a2a2a" stroke-width="0.95"/>
<circle cx="163.6" cy="440.2" r="1.6500000000000001" fill="none" stroke="#2a2a2a" stroke-width="0.95"/>
<circle cx="183.4" cy="426.3" r="1.6500000000000001" fill="none" stroke="#2a2a2a" stroke-width="0.95"/>
<circle cx="183.4" cy="447.5" r="1.6500000000000001" fill="none" stroke="#2a2a2a" stroke-width="0.95"/>
<circle cx="189.2" cy="455.3" r="1.6500000000000001" fill="none" stroke="#2a2a2a" stroke-width="0.95"/>
<circle cx="203.7" cy="436.7" r="1.6500000000000001" fill="none" stroke="#2a2a2a" stroke-width="0.95"/>
<circle cx="235.7" cy="453.8" r="1.6500000000000001" fill="none" stroke="#2a2a2a" stroke-width="0.95"/>
<circle cx="270.9" cy="433.5" r="1.6500000000000001" fill="none" stroke="#2a2a2a" stroke-width="0.95"/>
<circle cx="270.9" cy="451.5" r="1.6500000000000001" fill="none" stroke="#2a2a2a" stroke-width="0.95"/>
<circle cx="304.2" cy="425.3" r="1.6500000000000001" fill="none" stroke="#2a2a2a" stroke-width="0.95"/>
<circle cx="318.7" cy="430.7" r="1.6500000000000001" fill="none" stroke="#2a2a2a" stroke-width="0.95"/>
<circle cx="331" cy="424.4" r="1.6500000000000001" fill="none" stroke="#2a2a2a" stroke-width="0.95"/>
<circle cx="331" cy="437.5" r="1.6500000000000001" fill="none" stroke="#2a2a2a" stroke-width="0.95"/>
<circle cx="357.8" cy="448.2" r="1.6500000000000001" fill="none" stroke="#2a2a2a" stroke-width="0.95"/>
<path d="M89.9 425 L115 425.3 L145 425.5 L166.7 434.8 L183.8 437.9 L205 440.6 L255 441.2 L291 438 L325 435.6 L364 435.6" stroke="#333333" stroke-width="1" fill="none" stroke-linejoin="round"/>
<circle cx="88.8" cy="419.8" r="1.6500000000000001" fill="none" stroke="#3c8c64" stroke-width="0.95"/>
<circle cx="103.4" cy="430.5" r="1.6500000000000001" fill="none" stroke="#3c8c64" stroke-width="0.95"/>
<circle cx="119.7" cy="429.8" r="1.6500000000000001" fill="none" stroke="#3c8c64" stroke-width="0.95"/>
<circle cx="120" cy="444.4" r="1.6500000000000001" fill="none" stroke="#3c8c64" stroke-width="0.95"/>
<circle cx="131.7" cy="417.2" r="1.6500000000000001" fill="none" stroke="#3c8c64" stroke-width="0.95"/>
<circle cx="131.7" cy="431.5" r="1.6500000000000001" fill="none" stroke="#3c8c64" stroke-width="0.95"/>
<circle cx="131.7" cy="434" r="1.6500000000000001" fill="none" stroke="#3c8c64" stroke-width="0.95"/>
<circle cx="138.9" cy="432.7" r="1.6500000000000001" fill="none" stroke="#3c8c64" stroke-width="0.95"/>
<circle cx="138.9" cy="435.2" r="1.6500000000000001" fill="none" stroke="#3c8c64" stroke-width="0.95"/>
<circle cx="142.9" cy="444.6" r="1.6500000000000001" fill="none" stroke="#3c8c64" stroke-width="0.95"/>
<circle cx="142.9" cy="446.6" r="1.6500000000000001" fill="none" stroke="#3c8c64" stroke-width="0.95"/>
<circle cx="164.4" cy="451.6" r="1.6500000000000001" fill="none" stroke="#3c8c64" stroke-width="0.95"/>
<circle cx="183.4" cy="436.4" r="1.6500000000000001" fill="none" stroke="#3c8c64" stroke-width="0.95"/>
<circle cx="189.2" cy="442" r="1.6500000000000001" fill="none" stroke="#3c8c64" stroke-width="0.95"/>
<circle cx="203.7" cy="424" r="1.6500000000000001" fill="none" stroke="#3c8c64" stroke-width="0.95"/>
<circle cx="199" cy="433.6" r="1.6500000000000001" fill="none" stroke="#3c8c64" stroke-width="0.95"/>
<circle cx="245.3" cy="437.6" r="1.6500000000000001" fill="none" stroke="#3c8c64" stroke-width="0.95"/>
<circle cx="310.2" cy="437.1" r="1.6500000000000001" fill="none" stroke="#3c8c64" stroke-width="0.95"/>
<circle cx="331" cy="418.8" r="1.6500000000000001" fill="none" stroke="#3c8c64" stroke-width="0.95"/>
<circle cx="334.8" cy="434.4" r="1.6500000000000001" fill="none" stroke="#3c8c64" stroke-width="0.95"/>
<circle cx="347.8" cy="431.6" r="1.6500000000000001" fill="none" stroke="#3c8c64" stroke-width="0.95"/>
<circle cx="354" cy="426.5" r="1.6500000000000001" fill="none" stroke="#3c8c64" stroke-width="0.95"/>
<circle cx="364" cy="443.3" r="1.6500000000000001" fill="none" stroke="#3c8c64" stroke-width="0.95"/>
<path d="M89.9 424 L103 426.5 L115 427.2 L135.7 430.5 L145 435.2 L166.7 436 L195 434.8 L265 437.6 L291 437 L315 436.5 L364 436.8" stroke="#459570" stroke-width="1" fill="none" stroke-linejoin="round"/>
<circle cx="91" cy="422.6" r="1.6500000000000001" fill="none" stroke="#e0384c" stroke-width="0.95"/>
<circle cx="88.8" cy="431.9" r="1.6500000000000001" fill="none" stroke="#e0384c" stroke-width="0.95"/>
<circle cx="103.2" cy="424.6" r="1.6500000000000001" fill="none" stroke="#e0384c" stroke-width="0.95"/>
<circle cx="108" cy="424.7" r="1.6500000000000001" fill="none" stroke="#e0384c" stroke-width="0.95"/>
<circle cx="123.1" cy="412.8" r="1.6500000000000001" fill="none" stroke="#e0384c" stroke-width="0.95"/>
<circle cx="123.1" cy="429.3" r="1.6500000000000001" fill="none" stroke="#e0384c" stroke-width="0.95"/>
<circle cx="131.7" cy="422.8" r="1.6500000000000001" fill="none" stroke="#e0384c" stroke-width="0.95"/>
<circle cx="134.2" cy="431.5" r="1.6500000000000001" fill="none" stroke="#e0384c" stroke-width="0.95"/>
<circle cx="138.9" cy="425" r="1.6500000000000001" fill="none" stroke="#e0384c" stroke-width="0.95"/>
<circle cx="138.9" cy="430.2" r="1.6500000000000001" fill="none" stroke="#e0384c" stroke-width="0.95"/>
<circle cx="142.9" cy="420.3" r="1.6500000000000001" fill="none" stroke="#e0384c" stroke-width="0.95"/>
<circle cx="142.9" cy="424.6" r="1.6500000000000001" fill="none" stroke="#e0384c" stroke-width="0.95"/>
<circle cx="142.9" cy="429.6" r="1.6500000000000001" fill="none" stroke="#e0384c" stroke-width="0.95"/>
<circle cx="142.9" cy="431.8" r="1.6500000000000001" fill="none" stroke="#e0384c" stroke-width="0.95"/>
<circle cx="164.4" cy="417" r="1.6500000000000001" fill="none" stroke="#e0384c" stroke-width="0.95"/>
<circle cx="183.4" cy="418.8" r="1.6500000000000001" fill="none" stroke="#e0384c" stroke-width="0.95"/>
<circle cx="183.4" cy="427.8" r="1.6500000000000001" fill="none" stroke="#e0384c" stroke-width="0.95"/>
<circle cx="189.2" cy="434" r="1.6500000000000001" fill="none" stroke="#e0384c" stroke-width="0.95"/>
<circle cx="199" cy="415.5" r="1.6500000000000001" fill="none" stroke="#e0384c" stroke-width="0.95"/>
<circle cx="203.7" cy="433" r="1.6500000000000001" fill="none" stroke="#e0384c" stroke-width="0.95"/>
<circle cx="222.5" cy="430.7" r="1.6500000000000001" fill="none" stroke="#e0384c" stroke-width="0.95"/>
<circle cx="235.7" cy="420.4" r="1.6500000000000001" fill="none" stroke="#e0384c" stroke-width="0.95"/>
<circle cx="235.7" cy="432.5" r="1.6500000000000001" fill="none" stroke="#e0384c" stroke-width="0.95"/>
<circle cx="245.3" cy="441.2" r="1.6500000000000001" fill="none" stroke="#e0384c" stroke-width="0.95"/>
<circle cx="270.9" cy="428.9" r="1.6500000000000001" fill="none" stroke="#e0384c" stroke-width="0.95"/>
<circle cx="283" cy="432.6" r="1.6500000000000001" fill="none" stroke="#e0384c" stroke-width="0.95"/>
<circle cx="295.2" cy="421.7" r="1.6500000000000001" fill="none" stroke="#e0384c" stroke-width="0.95"/>
<circle cx="303" cy="434" r="1.6500000000000001" fill="none" stroke="#e0384c" stroke-width="0.95"/>
<circle cx="310.2" cy="431" r="1.6500000000000001" fill="none" stroke="#e0384c" stroke-width="0.95"/>
<circle cx="312.5" cy="427.1" r="1.6500000000000001" fill="none" stroke="#e0384c" stroke-width="0.95"/>
<circle cx="318.7" cy="444.5" r="1.6500000000000001" fill="none" stroke="#e0384c" stroke-width="0.95"/>
<circle cx="330.5" cy="415.1" r="1.6500000000000001" fill="none" stroke="#e0384c" stroke-width="0.95"/>
<circle cx="331" cy="442.8" r="1.6500000000000001" fill="none" stroke="#e0384c" stroke-width="0.95"/>
<circle cx="334.8" cy="426.9" r="1.6500000000000001" fill="none" stroke="#e0384c" stroke-width="0.95"/>
<circle cx="336" cy="439" r="1.6500000000000001" fill="none" stroke="#e0384c" stroke-width="0.95"/>
<circle cx="336.8" cy="446.2" r="1.6500000000000001" fill="none" stroke="#e0384c" stroke-width="0.95"/>
<circle cx="347.8" cy="421" r="1.6500000000000001" fill="none" stroke="#e0384c" stroke-width="0.95"/>
<circle cx="354" cy="422.3" r="1.6500000000000001" fill="none" stroke="#e0384c" stroke-width="0.95"/>
<circle cx="364" cy="426" r="1.6500000000000001" fill="none" stroke="#e0384c" stroke-width="0.95"/>
<path d="M89.9 426.2 L115 426.2 L145 425.5 L195 428.5 L255 431.1 L265 432 L315 431.9 L364 426" stroke="#e04646" stroke-width="1" fill="none" stroke-linejoin="round"/>
<rect x="300.5" y="601.8" width="74.7" height="40.1" fill="#fff" stroke="#666" stroke-width="0.9"/>
<circle cx="308" cy="612.6" r="2.3" fill="#1414f0"/>
<text x="316.3" y="615.9" class="t lg">NCX</text>
<circle cx="343.4" cy="612.6" r="1.9" fill="none" stroke="#2a2a2a" stroke-width="0.85"/>
<text x="351.9" y="615.9" class="t lg">STR</text>
<circle cx="308" cy="622.1" r="2.3" fill="#14e6f2"/>
<text x="316.3" y="625.4" class="t lg">HIP</text>
<circle cx="343.4" cy="622.1" r="1.9" fill="none" stroke="#3c8c64" stroke-width="0.85"/>
<text x="351.9" y="625.4" class="t lg">MD</text>
<circle cx="308" cy="632.6" r="2.3" fill="#f59a1c"/>
<text x="316.3" y="635.9" class="t lg">AMY</text>
<circle cx="343.4" cy="632.6" r="1.9" fill="none" stroke="#e0384c" stroke-width="0.85"/>
<text x="351.9" y="635.9" class="t lg">CBC</text>
<text x="226.4" y="680.8" text-anchor="middle" class="t ax">Age (Days)</text>
</svg>
</body></html>
